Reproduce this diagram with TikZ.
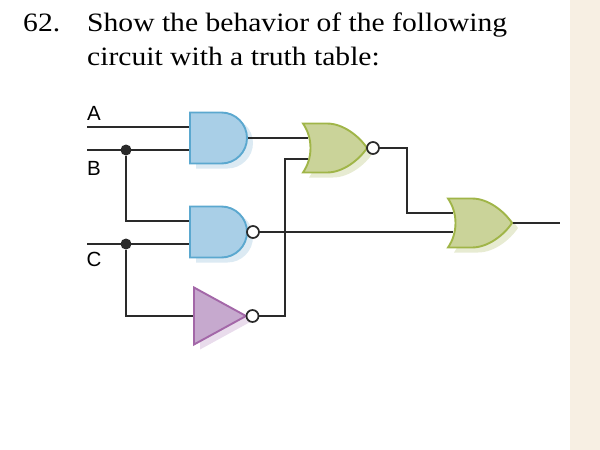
\documentclass[tikz,border=0pt]{standalone}
\usepackage{fontspec}
\setmainfont[FakeStretch=1.117]{Liberation Serif}
\setsansfont{Liberation Sans}
\usetikzlibrary{positioning}
\pgfdeclarelayer{background}
\pgfdeclarelayer{wires}
\pgfsetlayers{background,wires,main}

\definecolor{panelcol}{HTML}{F7EFE3}
\definecolor{wirecol}{HTML}{2A2A2A}
\definecolor{andfill}{HTML}{A9CFE7}
\definecolor{anddraw}{HTML}{5BA8CF}
\definecolor{andshade}{HTML}{DCEAF3}
\definecolor{orfill}{HTML}{CAD399}
\definecolor{ordraw}{HTML}{A0B548}
\definecolor{orshade}{HTML}{E7EBD2}
\definecolor{notfill}{HTML}{C6A9CE}
\definecolor{notdraw}{HTML}{A367A8}
\definecolor{notshade}{HTML}{E9DCEC}

\tikzset{
    wire/.style={draw=wirecol, line width=1.7pt},
    gatebox/.style={inner sep=0pt, outer sep=0pt},
    andbox/.style={gatebox, minimum width=57pt, minimum height=51pt},
    orbox/.style={gatebox, minimum width=64pt, minimum height=49pt},
    notbox/.style={gatebox, minimum width=52pt, minimum height=57pt},
    bubble/.style={circle, draw=wirecol, fill=white, line width=1.7pt,
        minimum size=12pt, inner sep=0pt, outer sep=0pt},
    joint/.style={circle, fill=wirecol, minimum size=11pt, inner sep=0pt,
        outer sep=0pt},
    inlabel/.style={font=\sffamily\fontsize{20.5}{24}\selectfont, text=black,
        inner sep=0pt},
    textline/.style={font=\fontsize{26.5}{30}\selectfont, text=black,
        anchor=base west, inner sep=0pt},
    andbody/.style={fill=andfill, draw=anddraw, line width=1.9pt},
    orbody/.style={fill=orfill, draw=ordraw, line width=1.9pt},
    notbody/.style={fill=notfill, draw=notdraw, line width=1.9pt},
    andshadow/.style={fill=andshade},
    orshadow/.style={fill=orshade},
    notshadow/.style={fill=notshade}
}

% outlines, measured from the centre of the gate's box
\newcommand{\andpath}{(-28.5,-25.5) -- (3,-25.5)
    .. controls (17,-25.5) and (28.5,-14) .. (28.5,0)
    .. controls (28.5,14) and (17,25.5) .. (3,25.5)
    -- (-28.5,25.5) -- cycle}
\newcommand{\orpath}{(-32,-24.5) -- (-8,-24.5)
    .. controls (8,-24.5) and (24,-12) .. (32,0)
    .. controls (24,12) and (8,24.5) .. (-8,24.5)
    -- (-32,24.5)
    .. controls (-22,10) and (-22,-10) .. (-32,-24.5) -- cycle}
\newcommand{\notpath}{(-26,-28.5) -- (26,0) -- (-26,28.5) -- cycle}

% #1 box node, #2 outline, #3 and/or/not
\newcommand{\drawgate}[3]{
    \begin{pgfonlayer}{background}
        \path[#3shadow, shift={(#1.center)}, xshift=6pt, yshift=-5pt] #2;
    \end{pgfonlayer}
    \path[#3body, shift={(#1.center)}] #2;
}

\begin{document}
\begin{tikzpicture}[x=1pt, y=-1pt]

    \useasboundingbox (0,0) rectangle (600,450);

    \begin{pgfonlayer}{background}
        \fill[panelcol] (570,0) rectangle (600,450);
    \end{pgfonlayer}

    % Question text
    \node[textline] (num) at (23,31) {62.};
    \node[textline] (line1) at (87,31) {Show the behavior of the following};
    \node[textline] (line2) at (87,65) {circuit with a truth table:};

    % Gates
    \node[andbox] (and1) at (218.5,138) {};
    \node[andbox] (and2) at (218.5,232) {};
    \node[notbox] (not1) at (220,316) {};
    \node[orbox] (or1) at (335,148) {};
    \node[orbox] (or2) at (480,223) {};

    \drawgate{and1}{\andpath}{and}
    \drawgate{and2}{\andpath}{and}
    \drawgate{not1}{\notpath}{not}
    \drawgate{or1}{\orpath}{or}
    \drawgate{or2}{\orpath}{or}

    \node[bubble] (bub2) at (253,232) {};
    \node[bubble] (bub3) at (252.5,316) {};
    \node[bubble] (bub1) at (373,148) {};

    % Inputs
    \node[inlabel] (labA) at (94,113) {A};
    \node[inlabel] (labB) at (94,168) {B};
    \node[inlabel] (labC) at (94,259.5) {C};
    \coordinate (inA) at (87,127);
    \coordinate (inB) at (87,150);
    \coordinate (inC) at (87,244);
    \node[joint] (dotB) at (126,150) {};
    \node[joint] (dotC) at (126,244) {};

    % Pins
    \coordinate (and1a) at (190,127);
    \coordinate (and1b) at (190,150);
    \coordinate (and2a) at (190,221);
    \coordinate (and2b) at (190,244);
    \coordinate (or1a) at (308,138);
    \coordinate (or1b) at (308,159);
    \coordinate (or2a) at (453,213);
    \coordinate (or2b) at (453,232);
    \coordinate (bend1) at (285,159);
    \coordinate (bend2) at (407,180);
    \coordinate (out) at (560,223);

    \begin{pgfonlayer}{wires}
        \draw[wire] (inA) -- (and1a);
        \draw[wire] (inB) -- (and1b);
        \draw[wire] (dotB) |- (and2a);
        \draw[wire] (inC) -- (and2b);
        \draw[wire] (dotC) |- (not1.west);
        \draw[wire] (and1.east) -- (or1a);
        \draw[wire] (bub2) -- (or2b);
        \draw[wire] (bub3) -| (bend1) -- (or1b);
        \draw[wire] (bub1) -| (bend2) |- (or2a);
        \draw[wire] (or2.east) -- (out);
    \end{pgfonlayer}

\end{tikzpicture}
\end{document}
